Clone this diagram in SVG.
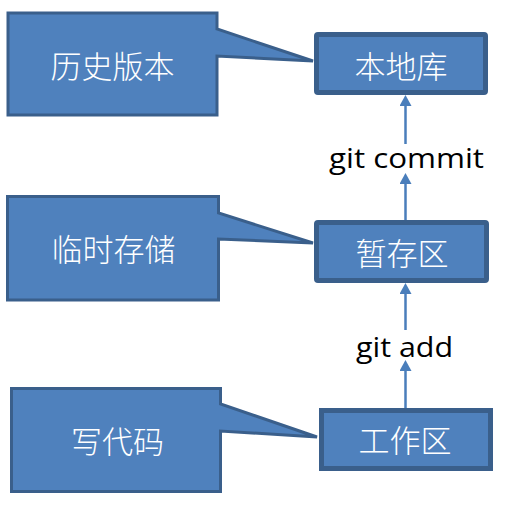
<svg xmlns="http://www.w3.org/2000/svg" width="516" height="514" viewBox="0 0 516 514">
  <style>
    .callout { fill: #4F81BD; stroke: #3A5F8B; stroke-width: 3; stroke-linejoin: miter; }
    .box { fill: #4F81BD; stroke: #3A5F8B; stroke-width: 5; }
    .zh { font-family: "Noto Sans CJK SC", "Noto Sans", sans-serif; font-size: 31px; fill: #FFFFFF; text-anchor: middle; font-weight: 300; }
    .lbl { font-family: "Open Sans", "Noto Sans", sans-serif; font-size: 27px; fill: #000000; }
    .conn { stroke: #4A7EBB; stroke-width: 2.5; fill: none; marker-end: url(#ah); }
  </style>
  <defs>
    <marker id="ah" markerUnits="userSpaceOnUse" markerWidth="12" markerHeight="12" refX="0" refY="6" orient="auto" viewBox="0 0 12 12">
      <path d="M0,0 L11,6 L0,12 Z" fill="#4A7EBB"/>
    </marker>
  </defs>
  <rect width="516" height="514" fill="#FFFFFF"/>

  <g id="callout-history">
    <path class="callout" d="M8,13 L217,13 L217,29 L313,61 L217,56 L217,115 L8,115 Z"/>
    <text class="zh" x="112.5" y="78">历史版本</text>
  </g>
  <g id="callout-temp">
    <path class="callout" d="M7.5,196.5 L218.5,196.5 L218.5,213 L313,243 L218.5,239 L218.5,300 L7.5,300 Z"/>
    <text class="zh" x="113.5" y="261">临时存储</text>
  </g>
  <g id="callout-code">
    <path class="callout" d="M11.5,388.5 L220.5,388.5 L220.5,404 L317,437 L220.5,431 L220.5,491.5 L11.5,491.5 Z"/>
    <text class="zh" x="117.5" y="453">写代码</text>
  </g>

  <g id="node-local-repo">
    <rect class="box" x="316.5" y="34.5" width="169" height="58" rx="1.5"/>
    <text class="zh" x="401" y="77.5">本地库</text>
  </g>
  <g id="node-staging">
    <rect class="box" x="316.5" y="222.5" width="170" height="58" rx="1.5"/>
    <text class="zh" x="402" y="265">暂存区</text>
  </g>
  <g id="node-workspace">
    <rect class="box" x="321.5" y="410.5" width="169" height="58"/>
    <text class="zh" x="405" y="452">工作区</text>
  </g>

  <g id="connectors">
    <line class="conn" x1="405.5" y1="220" x2="405.5" y2="184"/>
    <line class="conn" x1="405.5" y1="144" x2="405.5" y2="106"/>
    <line class="conn" x1="405.5" y1="408" x2="405.5" y2="371"/>
    <line class="conn" x1="405.5" y1="330" x2="405.5" y2="294"/>
    <text class="lbl" x="329" y="168" textLength="155" lengthAdjust="spacingAndGlyphs">git commit</text>
    <text class="lbl" x="356" y="357" textLength="97" lengthAdjust="spacingAndGlyphs">git add</text>
  </g>
</svg>
